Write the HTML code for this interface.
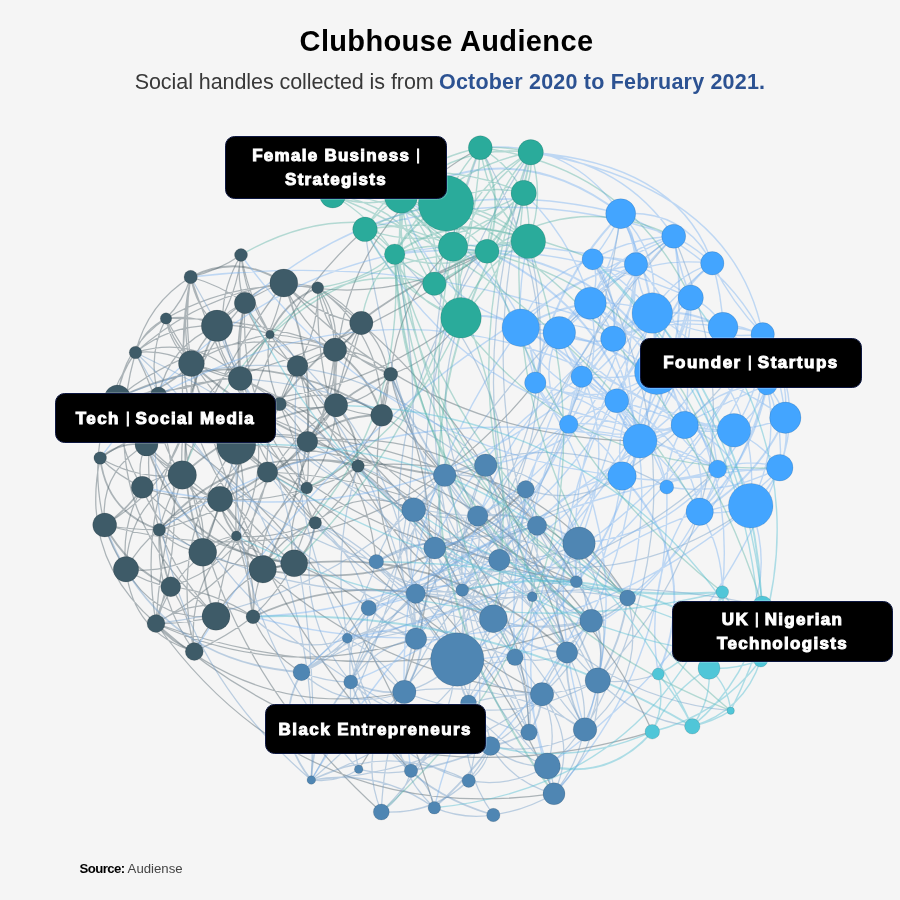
<!DOCTYPE html>
<html lang="en"><head><meta charset="utf-8"><title>Clubhouse Audience</title>
<style>
html,body{margin:0;padding:0}
body{width:900px;height:900px;background:#f5f5f5;position:relative;overflow:hidden;font-family:"Liberation Sans",sans-serif;color:#000}
h1{position:absolute;left:0;top:23.5px;width:893px;margin:0;text-align:center;font-size:29px;line-height:34px;font-weight:700;letter-spacing:0.36px;white-space:nowrap}
.sub{position:absolute;left:0;top:66.6px;width:900px;margin:0;text-align:center;font-size:21.5px;line-height:30px;color:#383838;white-space:nowrap;letter-spacing:-0.07px}
.sub b{color:#2c5292;font-weight:700;letter-spacing:0.2px;margin-left:-0.5px}
.lb{position:absolute;box-sizing:border-box;background:#000;border:1px solid #0c1640;border-radius:9.5px;color:#fff;font-weight:700;font-size:17px;line-height:23.7px;padding-top:1px;letter-spacing:0.7px;text-align:center;display:flex;align-items:center;justify-content:center;box-shadow:0 0 0 1px rgba(255,255,255,.2);-webkit-text-stroke:1px #fff;white-space:nowrap}
.lb i{font-style:normal;font-weight:400;font-size:14px;line-height:10px;display:inline-block;vertical-align:1px;-webkit-text-stroke:0.9px #fff;letter-spacing:0}
.lb span{display:block}
.src{position:absolute;left:79.5px;top:860.4px;font-size:13.2px;line-height:18px;color:#444;margin:0;white-space:nowrap}
.src b{color:#000;letter-spacing:-0.56px}
</style></head><body>
<svg width="900" height="900" viewBox="0 0 900 900" style="position:absolute;left:0;top:0">
<path fill="none" stroke="rgba(70,88,98,0.42)" stroke-width="1.25" d="M241.0 255.0Q217.9 270.8 190.7 277.0M241.0 255.0Q237.1 293.1 217.0 325.8M241.0 255.0Q245.3 298.5 270.0 334.5M241.0 255.0Q205.0 316.5 240.2 378.5M241.0 255.0Q258.7 349.0 336.0 405.2M190.7 277.0Q183.7 300.9 166.0 318.5M190.7 277.0Q183.9 320.3 191.4 363.5M190.7 277.0Q154.5 451.9 294.2 563.3M190.7 277.0Q283.4 555.5 542.0 694.3M283.8 283.0Q260.1 284.6 245.0 303.0M283.8 283.0Q245.1 296.1 217.0 325.8M283.8 283.0Q199.1 295.1 135.5 352.5M283.8 283.0Q301.0 283.5 317.7 287.7M283.8 283.0Q315.8 316.0 361.3 323.0M283.8 283.0Q300.8 323.0 335.0 349.8M283.8 283.0Q427.9 438.6 640.0 441.0M245.0 303.0Q235.9 279.6 241.0 255.0M245.0 303.0Q220.2 285.2 190.7 277.0M245.0 303.0Q226.9 309.3 217.0 325.8M245.0 303.0Q208.2 324.4 191.4 363.5M245.0 303.0Q176.1 375.3 182.2 475.0M166.0 318.5Q192.6 314.2 217.0 325.8M166.0 318.5Q143.7 329.2 135.5 352.5M166.0 318.5Q170.5 345.6 191.4 363.5M166.0 318.5Q183.0 373.3 240.2 378.5M166.0 318.5Q236.8 278.3 317.7 287.7M166.0 318.5Q274.9 518.9 499.3 560.0M217.0 325.8Q195.5 305.9 190.7 277.0M217.0 325.8Q171.2 323.6 135.5 352.5M217.0 325.8Q217.5 357.0 240.2 378.5M270.0 334.5Q253.8 321.7 245.0 303.0M270.0 334.5Q244.6 323.7 217.0 325.8M270.0 334.5Q227.9 341.5 191.4 363.5M270.0 334.5Q290.4 344.5 297.5 366.0M270.0 334.5Q126.8 445.0 156.0 623.5M270.0 334.5Q384.3 506.2 576.3 581.7M135.5 352.5Q147.7 303.5 190.7 277.0M135.5 352.5Q195.7 333.9 240.2 378.5M135.5 352.5Q120.0 372.7 117.5 398.0M135.5 352.5Q201.2 483.8 156.0 623.5M191.4 363.5Q200.4 342.1 217.0 325.8M191.4 363.5Q165.2 349.1 135.5 352.5M191.4 363.5Q197.1 470.6 104.7 525.0M240.2 378.5Q274.6 336.5 283.8 283.0M240.2 378.5Q251.0 353.7 270.0 334.5M240.2 378.5Q197.9 379.4 158.5 395.0M240.2 378.5Q284.0 399.2 307.3 441.7M240.2 378.5Q243.5 412.1 236.3 445.0M240.2 378.5Q362.1 430.1 376.3 561.7M297.5 366.0Q259.1 344.6 245.0 303.0M297.5 366.0Q318.6 329.7 317.7 287.7M297.5 366.0Q338.0 357.3 361.3 323.0M297.5 366.0Q285.2 383.4 279.7 404.0M117.5 398.0Q123.1 346.9 166.0 318.5M117.5 398.0Q137.8 394.4 158.5 395.0M117.5 398.0Q214.3 319.9 335.0 349.8M117.5 398.0Q133.8 450.0 182.2 475.0M117.5 398.0Q116.9 446.2 142.3 487.2M117.5 398.0Q322.2 374.9 487.0 251.3M117.5 398.0Q357.6 539.7 434.3 807.7M158.5 395.0Q146.8 355.2 166.0 318.5M158.5 395.0Q169.7 345.1 217.0 325.8M158.5 395.0Q146.9 418.4 146.5 444.5M158.5 395.0Q122.7 522.4 216.0 616.3M158.5 395.0Q326.7 422.5 461.0 317.7M158.5 395.0Q332.8 406.2 434.7 548.0M317.7 287.7Q343.1 300.9 361.3 323.0M317.7 287.7Q339.2 315.2 335.0 349.8M317.7 287.7Q328.6 352.6 390.7 374.3M317.7 287.7Q382.8 334.9 381.7 415.3M361.3 323.0Q342.0 362.1 336.0 405.2M361.3 323.0Q401.2 362.6 381.7 415.3M361.3 323.0Q322.9 487.5 159.3 529.7M335.0 349.8Q303.9 336.0 270.0 334.5M335.0 349.8Q314.6 354.0 297.5 366.0M335.0 349.8Q368.0 350.4 390.7 374.3M335.0 349.8Q332.4 377.6 336.0 405.2M335.0 349.8Q314.1 531.5 156.0 623.5M390.7 374.3Q285.8 316.5 166.0 318.5M390.7 374.3Q369.8 401.2 336.0 405.2M390.7 374.3Q381.3 393.7 381.7 415.3M390.7 374.3Q343.8 535.6 457.3 659.5M336.0 405.2Q323.8 425.1 307.3 441.7M336.0 405.2Q334.3 451.2 306.7 488.0M336.0 405.2Q225.6 483.9 253.0 616.7M381.7 415.3Q357.8 415.0 336.0 405.2M381.7 415.3Q359.3 467.2 306.7 488.0M381.7 415.3Q333.8 381.9 279.7 404.0M381.7 415.3Q419.9 438.3 444.7 475.3M307.3 441.7Q311.1 402.7 297.5 366.0M307.3 441.7Q357.9 367.8 317.7 287.7M307.3 441.7Q309.8 464.9 306.7 488.0M307.3 441.7Q271.2 429.8 236.3 445.0M307.3 441.7Q488.7 421.5 576.3 581.7M358.0 466.0Q335.1 483.3 306.7 488.0M358.0 466.0Q346.1 501.5 315.3 522.7M358.0 466.0Q308.1 502.8 294.2 563.3M358.0 466.0Q523.5 547.8 529.0 732.3M358.0 466.0Q533.6 448.8 627.6 598.0M306.7 488.0Q238.3 408.0 245.0 303.0M306.7 488.0Q304.6 506.9 315.3 522.7M306.7 488.0Q284.8 523.0 294.2 563.3M315.3 522.7Q220.3 432.0 245.0 303.0M315.3 522.7Q296.1 492.9 267.5 472.0M315.3 522.7Q277.5 539.5 236.3 536.0M315.3 522.7Q280.6 536.5 262.7 569.3M315.3 522.7Q360.4 484.9 413.7 509.7M279.7 404.0Q263.1 370.9 270.0 334.5M279.7 404.0Q307.7 411.3 336.0 405.2M279.7 404.0Q298.0 444.4 306.7 488.0M279.7 404.0Q181.7 403.7 100.2 458.0M146.5 444.5Q162.7 461.7 182.2 475.0M146.5 444.5Q136.0 465.0 142.3 487.2M146.5 444.5Q173.2 485.3 220.0 499.0M146.5 444.5Q99.1 471.0 104.7 525.0M236.3 445.0Q191.4 439.5 146.5 444.5M236.3 445.0Q255.4 454.5 267.5 472.0M236.3 445.0Q231.4 473.0 220.0 499.0M236.3 445.0Q250.4 490.5 236.3 536.0M236.3 445.0Q457.4 444.7 591.2 620.8M100.2 458.0Q118.5 476.5 142.3 487.2M100.2 458.0Q79.3 557.2 156.0 623.5M267.5 472.0Q165.3 399.6 190.7 277.0M267.5 472.0Q264.6 436.4 279.7 404.0M267.5 472.0Q467.5 582.3 554.0 793.7M267.5 472.0Q539.6 483.8 652.3 731.7M182.2 475.0Q155.2 439.5 158.5 395.0M182.2 475.0Q138.3 480.5 100.2 458.0M182.2 475.0Q159.8 473.2 142.3 487.2M182.2 475.0Q166.6 500.6 159.3 529.7M142.3 487.2Q179.9 501.4 220.0 499.0M142.3 487.2Q158.4 532.8 202.7 552.3M142.3 487.2Q120.7 525.6 126.0 569.3M142.3 487.2Q203.8 554.1 294.2 563.3M220.0 499.0Q264.6 503.2 306.7 488.0M220.0 499.0Q196.1 494.8 182.2 475.0M220.0 499.0Q183.4 502.1 159.3 529.7M104.7 525.0Q81.4 431.8 135.5 352.5M104.7 525.0Q131.8 530.1 159.3 529.7M104.7 525.0Q111.7 548.9 126.0 569.3M159.3 529.7Q255.9 471.0 297.5 366.0M236.3 536.0Q279.0 458.3 240.2 378.5M236.3 536.0Q260.5 559.8 294.2 563.3M236.3 536.0Q249.4 575.4 253.0 616.7M202.7 552.3Q207.4 509.7 182.2 475.0M202.7 552.3Q214.2 526.6 220.0 499.0M202.7 552.3Q176.5 549.6 159.3 529.7M202.7 552.3Q216.4 537.7 236.3 536.0M126.0 569.3Q127.7 506.4 182.2 475.0M126.0 569.3Q138.5 546.0 159.3 529.7M126.0 569.3Q167.4 574.4 202.7 552.3M126.0 569.3Q133.0 633.0 194.3 651.5M262.7 569.3Q257.6 514.0 306.7 488.0M262.7 569.3Q247.3 554.4 236.3 536.0M262.7 569.3Q278.8 568.0 294.2 563.3M262.7 569.3Q253.9 592.2 253.0 616.7M294.2 563.3Q247.1 542.7 220.0 499.0M294.2 563.3Q246.4 575.1 202.7 552.3M294.2 563.3Q277.5 593.0 253.0 616.7M294.2 563.3Q334.8 580.1 368.7 608.0M170.7 586.7Q253.9 558.7 267.5 472.0M170.7 586.7Q146.2 583.4 126.0 569.3M170.7 586.7Q215.4 592.0 253.0 616.7M170.7 586.7Q159.4 603.5 156.0 623.5M170.7 586.7Q190.5 616.2 194.3 651.5M216.0 616.3Q90.9 510.3 135.5 352.5M216.0 616.3Q221.4 575.0 236.3 536.0M216.0 616.3Q155.7 622.2 126.0 569.3M216.0 616.3Q241.2 569.2 294.2 563.3M216.0 616.3Q186.4 623.6 156.0 623.5M216.0 616.3Q203.3 632.7 194.3 651.5M253.0 616.7Q259.1 525.1 182.2 475.0M253.0 616.7Q202.5 591.0 156.0 623.5M253.0 616.7Q225.6 637.4 194.3 651.5M156.0 623.5Q167.0 433.4 283.8 283.0M156.0 623.5Q175.3 560.6 236.3 536.0M156.0 623.5Q374.1 701.0 591.2 620.8M156.0 623.5Q262.5 721.8 404.3 692.0M156.0 623.5Q373.9 816.2 652.3 731.7M194.3 651.5Q168.1 538.7 236.3 445.0M194.3 651.5Q155.3 596.8 159.3 529.7M194.3 651.5Q186.1 583.1 236.3 536.0M480.3 147.7Q328.1 231.6 336.0 405.2M365.0 229.3Q227.8 352.1 236.3 536.0M453.0 246.7Q398.1 298.9 390.7 374.3M487.0 251.3Q391.5 306.5 283.8 283.0M461.0 317.7Q436.3 359.0 390.7 374.3M535.3 382.7Q366.3 593.9 104.7 525.0M444.7 475.3Q401.4 433.5 390.7 374.3M576.3 581.7Q375.2 553.6 297.5 366.0M462.3 590.0Q378.2 415.3 191.4 363.5M493.3 618.7Q313.0 502.3 317.7 287.7M416.0 638.8Q283.0 682.0 156.0 623.5M567.0 652.5Q503.6 428.3 317.7 287.7M301.5 672.2Q267.9 652.6 253.0 616.7M542.0 694.3Q312.9 665.4 182.2 475.0M554.0 793.7Q303.4 829.3 156.0 623.5M358.7 769.3Q482.7 580.5 390.7 374.3M411.0 770.7Q246.9 596.4 191.4 363.5M381.3 812.0Q141.6 595.9 190.7 277.0M627.6 598.0Q427.9 393.2 146.5 444.5"/>
<path fill="none" stroke="rgba(70,88,98,0.42)" stroke-width="1.8" d="M190.7 277.0Q239.0 252.8 283.8 283.0M245.0 303.0Q234.8 340.3 240.2 378.5M217.0 325.8Q161.7 436.0 202.7 552.3M191.4 363.5Q161.6 396.1 117.5 398.0M191.4 363.5Q300.2 459.8 444.7 475.3M317.7 287.7Q284.5 301.5 270.0 334.5M361.3 323.0Q351.6 339.8 335.0 349.8M390.7 374.3Q337.2 393.4 307.3 441.7M336.0 405.2Q358.9 431.3 358.0 466.0M381.7 415.3Q254.5 332.5 117.5 398.0M381.7 415.3Q368.9 375.0 335.0 349.8M381.7 415.3Q339.3 413.9 307.3 441.7M358.0 466.0Q239.6 438.3 159.3 529.7M146.5 444.5Q180.9 553.0 294.2 563.3M236.3 445.0Q267.9 472.4 306.7 488.0M100.2 458.0Q120.4 441.1 146.5 444.5M100.2 458.0Q106.8 512.8 159.3 529.7M267.5 472.0Q292.0 462.8 307.3 441.7M267.5 472.0Q311.6 451.1 358.0 466.0M267.5 472.0Q245.8 489.0 220.0 499.0M182.2 475.0Q247.9 415.5 336.0 405.2M142.3 487.2Q127.4 510.0 104.7 525.0M220.0 499.0Q248.4 529.9 262.7 569.3M104.7 525.0Q126.9 567.5 170.7 586.7M159.3 529.7Q160.2 559.2 170.7 586.7M236.3 536.0Q222.6 519.9 220.0 499.0M202.7 552.3Q202.1 585.8 216.0 616.3M202.7 552.3Q272.9 333.8 487.0 251.3M262.7 569.3Q342.4 431.2 283.8 283.0M262.7 569.3Q435.7 534.5 567.0 652.5M294.2 563.3Q312.8 547.2 315.3 522.7M156.0 623.5Q171.2 642.9 194.3 651.5M525.7 489.3Q415.4 599.1 262.7 569.3M493.3 618.7Q373.6 561.4 253.0 616.7"/>
<path fill="none" stroke="rgba(105,150,195,0.42)" stroke-width="1.25" d="M190.7 277.0Q327.1 510.2 311.3 780.0M217.0 325.8Q283.3 508.7 477.7 516.0M270.0 334.5Q412.5 453.3 416.0 638.8M135.5 352.5Q261.5 584.2 515.0 657.3M135.5 352.5Q383.4 470.3 542.0 694.3M297.5 366.0Q283.7 509.2 347.3 638.3M158.5 395.0Q234.1 521.8 376.3 561.7M158.5 395.0Q133.5 627.7 311.3 780.0M390.7 374.3Q420.7 481.4 499.3 560.0M358.0 466.0Q394.1 477.3 413.7 509.7M315.3 522.7Q292.6 611.3 350.7 682.0M279.7 404.0Q457.8 527.6 529.0 732.3M236.3 445.0Q228.6 633.2 358.7 769.3M267.5 472.0Q364.9 608.7 532.3 596.7M159.3 529.7Q365.6 644.7 579.0 543.3M253.0 616.7Q293.0 658.6 347.3 638.3M156.0 623.5Q302.8 607.2 413.7 509.7M394.7 254.3Q553.1 407.0 493.3 618.7M394.7 254.3Q457.0 533.6 311.3 780.0M528.3 241.3Q579.6 451.9 415.7 593.7M592.7 259.3Q718.6 496.5 585.0 729.5M620.7 213.7Q573.0 555.3 311.3 780.0M673.7 236.3Q508.0 418.5 457.3 659.5M673.7 236.3Q436.9 404.6 350.7 682.0M717.7 469.0Q609.2 570.0 462.3 590.0M666.7 487.0Q558.7 424.3 444.7 475.3M750.7 505.7Q637.3 590.0 499.3 560.0M485.7 465.3Q324.2 308.2 117.5 398.0M485.7 465.3Q442.5 475.9 413.7 509.7M485.7 465.3Q558.7 472.8 579.0 543.3M485.7 465.3Q456.2 524.3 462.3 590.0M485.7 465.3Q505.6 591.8 597.8 680.5M444.7 475.3Q464.4 467.1 485.7 465.3M444.7 475.3Q432.3 495.3 413.7 509.7M444.7 475.3Q454.8 500.9 477.7 516.0M444.7 475.3Q427.5 536.6 462.3 590.0M525.7 489.3Q577.2 506.6 622.0 476.0M525.7 489.3Q537.1 505.7 537.0 525.7M525.7 489.3Q491.1 535.5 434.7 548.0M525.7 489.3Q535.0 544.2 576.3 581.7M525.7 489.3Q401.1 551.9 350.7 682.0M413.7 509.7Q444.8 522.2 477.7 516.0M413.7 509.7Q412.9 565.0 462.3 590.0M413.7 509.7Q398.7 552.1 415.7 593.7M477.7 516.0Q423.4 420.7 461.0 317.7M477.7 516.0Q484.6 556.0 462.3 590.0M537.0 525.7Q507.1 470.8 444.7 475.3M537.0 525.7Q520.4 545.4 499.3 560.0M537.0 525.7Q560.3 551.1 576.3 581.7M537.0 525.7Q481.6 536.9 462.3 590.0M537.0 525.7Q538.6 561.5 532.3 596.7M579.0 543.3Q541.4 562.2 499.3 560.0M579.0 543.3Q578.9 583.0 591.2 620.8M579.0 543.3Q616.4 608.1 597.8 680.5M434.7 548.0Q642.2 507.9 762.7 334.3M434.7 548.0Q435.2 511.0 444.7 475.3M434.7 548.0Q428.8 526.3 413.7 509.7M434.7 548.0Q467.6 550.7 499.3 560.0M434.7 548.0Q481.3 569.0 493.3 618.7M434.7 548.0Q496.8 698.0 381.3 812.0M499.3 560.0Q520.8 527.8 525.7 489.3M499.3 560.0Q498.0 533.3 477.7 516.0M499.3 560.0Q484.4 579.4 462.3 590.0M499.3 560.0Q427.7 566.9 368.7 608.0M376.3 561.7Q349.4 536.5 315.3 522.7M376.3 561.7Q395.7 506.8 444.7 475.3M376.3 561.7Q411.5 599.6 462.3 590.0M376.3 561.7Q391.4 583.3 415.7 593.7M576.3 581.7Q459.9 394.6 240.2 378.5M576.3 581.7Q477.7 584.7 413.7 509.7M576.3 581.7Q574.8 562.3 579.0 543.3M576.3 581.7Q525.9 580.3 493.3 618.7M576.3 581.7Q600.5 594.5 627.6 598.0M462.3 590.0Q609.4 374.5 480.3 147.7M462.3 590.0Q439.7 600.7 415.7 593.7M462.3 590.0Q466.2 625.2 457.3 659.5M462.3 590.0Q501.2 613.8 515.0 657.3M462.3 590.0Q493.8 684.4 468.7 780.7M415.7 593.7Q397.5 526.5 444.7 475.3M415.7 593.7Q459.1 591.8 493.3 618.7M415.7 593.7Q388.9 627.3 347.3 638.3M415.7 593.7Q411.8 616.3 416.0 638.8M532.3 596.7Q463.0 554.4 444.7 475.3M532.3 596.7Q532.6 629.5 515.0 657.3M532.3 596.7Q559.3 618.6 567.0 652.5M368.7 608.0Q357.4 555.7 315.3 522.7M368.7 608.0Q467.1 551.9 576.3 581.7M368.7 608.0Q354.4 620.6 347.3 638.3M368.7 608.0Q348.2 653.8 301.5 672.2M368.7 608.0Q359.3 661.5 404.3 692.0M493.3 618.7Q425.9 503.3 307.3 441.7M493.3 618.7Q505.2 590.3 499.3 560.0M493.3 618.7Q472.3 610.3 462.3 590.0M493.3 618.7Q458.7 644.3 416.0 638.8M493.3 618.7Q469.4 657.5 468.5 703.0M591.2 620.8Q425.2 650.5 315.3 522.7M591.2 620.8Q516.0 588.4 477.7 516.0M591.2 620.8Q541.9 634.6 493.3 618.7M591.2 620.8Q577.3 664.7 542.0 694.3M347.3 638.3Q444.8 641.0 499.3 560.0M347.3 638.3Q381.8 623.5 416.0 638.8M347.3 638.3Q326.9 658.7 301.5 672.2M416.0 638.8Q392.6 486.8 297.5 366.0M416.0 638.8Q359.5 428.2 487.0 251.3M416.0 638.8Q481.4 566.0 444.7 475.3M416.0 638.8Q433.7 655.0 457.3 659.5M457.3 659.5Q445.3 621.1 415.7 593.7M457.3 659.5Q486.6 669.1 515.0 657.3M457.3 659.5Q435.5 683.4 404.3 692.0M457.3 659.5Q456.8 682.8 468.5 703.0M457.3 659.5Q492.8 693.7 542.0 694.3M515.0 657.3Q541.9 665.1 567.0 652.5M567.0 652.5Q519.1 577.2 434.7 548.0M567.0 652.5Q577.0 635.0 591.2 620.8M567.0 652.5Q549.5 670.4 542.0 694.3M301.5 672.2Q356.8 629.1 376.3 561.7M301.5 672.2Q346.8 713.6 404.3 692.0M301.5 672.2Q449.0 566.7 627.6 598.0M350.7 682.0Q345.6 641.6 368.7 608.0M350.7 682.0Q373.9 646.1 416.0 638.8M350.7 682.0Q325.1 682.0 301.5 672.2M404.3 692.0Q382.9 657.6 347.3 638.3M404.3 692.0Q501.7 677.0 585.0 729.5M468.5 703.0Q423.9 585.6 315.3 522.7M468.5 703.0Q402.6 731.7 350.7 682.0M468.5 703.0Q494.0 727.4 529.0 732.3M542.0 694.3Q504.7 693.8 468.5 703.0M542.0 694.3Q558.7 717.8 585.0 729.5M542.0 694.3Q440.2 773.5 311.3 780.0M597.8 680.5Q459.0 452.2 523.7 193.0M597.8 680.5Q781.3 483.3 673.7 236.3M597.8 680.5Q606.4 649.3 591.2 620.8M597.8 680.5Q503.8 733.2 404.3 692.0M597.8 680.5Q571.0 691.7 542.0 694.3M597.8 680.5Q590.3 733.7 547.3 766.0M597.8 680.5Q637.1 719.7 692.3 726.3M529.0 732.3Q367.0 451.5 480.3 147.7M529.0 732.3Q528.7 645.6 462.3 590.0M529.0 732.3Q534.5 692.5 515.0 657.3M585.0 729.5Q435.1 452.4 530.7 152.3M585.0 729.5Q401.1 511.9 365.0 229.3M585.0 729.5Q599.0 707.0 597.8 680.5M585.0 729.5Q541.1 756.8 490.5 746.0M585.0 729.5Q648.8 677.5 627.6 598.0M490.5 746.0Q253.2 669.7 146.5 444.5M490.5 746.0Q341.9 437.7 530.7 152.3M490.5 746.0Q488.8 719.7 468.5 703.0M490.5 746.0Q523.1 726.9 542.0 694.3M490.5 746.0Q514.8 767.6 547.3 766.0M547.3 766.0Q416.4 636.2 485.7 465.3M547.3 766.0Q497.9 747.0 468.5 703.0M547.3 766.0Q559.3 729.1 542.0 694.3M547.3 766.0Q510.7 788.0 468.7 780.7M554.0 793.7Q607.6 727.4 567.0 652.5M554.0 793.7Q578.4 740.3 542.0 694.3M554.0 793.7Q601.5 747.0 597.8 680.5M554.0 793.7Q512.5 782.8 490.5 746.0M554.0 793.7Q553.9 779.1 547.3 766.0M358.7 769.3Q349.0 726.2 350.7 682.0M358.7 769.3Q384.7 775.6 411.0 770.7M358.7 769.3Q337.0 783.4 311.3 780.0M411.0 770.7Q306.2 632.0 358.0 466.0M411.0 770.7Q510.4 666.9 537.0 525.7M411.0 770.7Q448.2 744.0 468.5 703.0M411.0 770.7Q404.0 797.0 381.3 812.0M468.7 780.7Q360.8 749.7 347.3 638.3M468.7 780.7Q486.6 767.7 490.5 746.0M468.7 780.7Q431.7 814.9 381.3 812.0M311.3 780.0Q324.5 524.7 135.5 352.5M311.3 780.0Q514.0 705.1 525.7 489.3M311.3 780.0Q390.2 741.6 468.7 780.7M311.3 780.0Q378.6 768.1 434.3 807.7M381.3 812.0Q387.6 661.3 499.3 560.0M381.3 812.0Q354.3 744.6 404.3 692.0M381.3 812.0Q458.0 815.6 490.5 746.0M434.3 807.7Q382.6 759.4 404.3 692.0M434.3 807.7Q430.5 784.3 411.0 770.7M493.3 815.0Q457.1 764.3 468.5 703.0M493.3 815.0Q525.7 810.3 554.0 793.7M493.3 815.0Q462.8 819.8 434.3 807.7M627.6 598.0Q606.5 567.8 579.0 543.3M627.6 598.0Q514.0 496.2 376.3 561.7M627.6 598.0Q566.0 629.5 542.0 694.3M762.5 606.0Q519.4 551.3 301.5 672.2M658.3 674.0Q628.8 684.4 597.8 680.5M730.7 710.7Q576.0 695.2 499.3 560.0"/>
<path fill="none" stroke="rgba(105,150,195,0.42)" stroke-width="1.8" d="M390.7 374.3Q454.3 527.3 591.2 620.8M485.7 465.3Q506.6 510.6 499.3 560.0M444.7 475.3Q552.6 554.5 597.8 680.5M477.7 516.0Q532.4 537.8 532.3 596.7M477.7 516.0Q414.0 592.7 404.3 692.0M579.0 543.3Q533.7 509.7 477.7 516.0M579.0 543.3Q541.9 594.5 567.0 652.5M376.3 561.7Q437.3 524.6 499.3 560.0M591.2 620.8Q613.3 615.6 627.6 598.0M416.0 638.8Q389.5 627.8 368.7 608.0M567.0 652.5Q523.2 650.8 493.3 618.7M301.5 672.2Q156.0 661.6 104.7 525.0M301.5 672.2Q270.2 729.4 311.3 780.0M350.7 682.0Q409.4 562.8 537.0 525.7M404.3 692.0Q433.0 645.5 415.7 593.7M404.3 692.0Q376.1 694.6 350.7 682.0M542.0 694.3Q541.2 715.3 529.0 732.3M597.8 680.5Q609.9 626.1 576.3 581.7M529.0 732.3Q510.8 742.1 490.5 746.0M585.0 729.5Q564.3 693.7 567.0 652.5M411.0 770.7Q452.5 764.0 490.5 746.0M311.3 780.0Q313.1 723.8 350.7 682.0M434.3 807.7Q465.9 780.0 490.5 746.0M493.3 815.0Q388.3 784.6 350.7 682.0M627.6 598.0Q621.3 642.4 597.8 680.5"/>
<path fill="none" stroke="rgba(115,175,240,0.42)" stroke-width="1.4" d="M190.7 277.0Q513.6 239.1 785.3 417.7M245.0 303.0Q409.4 159.8 620.7 213.7M158.5 395.0Q430.7 250.1 684.7 425.0M100.2 458.0Q302.8 180.6 636.0 264.3M253.0 616.7Q493.7 607.8 616.7 400.7M253.0 616.7Q530.8 690.8 750.7 505.7M401.0 196.7Q434.0 318.5 559.3 332.7M401.0 196.7Q507.5 261.3 535.3 382.7M528.3 241.3Q517.9 283.9 520.7 327.7M520.7 327.7Q536.0 353.1 535.3 382.7M520.7 327.7Q556.1 346.1 581.7 376.7M520.7 327.7Q567.1 275.5 636.0 264.3M520.7 327.7Q569.1 315.7 613.3 338.7M520.7 327.7Q547.3 392.3 616.7 400.7M559.3 332.7Q539.2 336.6 520.7 327.7M559.3 332.7Q565.2 357.4 581.7 376.7M559.3 332.7Q581.7 372.0 616.7 400.7M559.3 332.7Q534.5 381.5 568.7 424.3M590.3 303.2Q572.3 238.9 523.7 193.0M590.3 303.2Q577.8 321.1 559.3 332.7M590.3 303.2Q600.0 281.7 592.7 259.3M590.3 303.2Q609.5 279.5 636.0 264.3M590.3 303.2Q604.1 368.1 568.7 424.3M590.3 303.2Q740.9 408.9 722.3 592.0M592.7 259.3Q539.1 275.0 520.7 327.7M592.7 259.3Q609.8 238.4 620.7 213.7M535.3 382.7Q529.8 293.1 453.0 246.7M535.3 382.7Q545.3 330.9 590.3 303.2M535.3 382.7Q599.1 411.1 657.0 372.0M535.3 382.7Q546.1 408.3 568.7 424.3M535.3 382.7Q644.8 544.0 585.0 729.5M581.7 376.7Q602.1 361.5 613.3 338.7M581.7 376.7Q619.7 379.9 657.0 372.0M581.7 376.7Q644.0 416.6 666.7 487.0M581.7 376.7Q569.2 398.9 568.7 424.3M581.7 376.7Q456.8 453.2 415.7 593.7M620.7 213.7Q613.8 285.5 559.3 332.7M620.7 213.7Q637.4 236.3 636.0 264.3M620.7 213.7Q661.9 255.3 652.3 313.0M620.7 213.7Q655.1 278.5 613.3 338.7M673.7 236.3Q370.2 370.2 194.3 651.5M673.7 236.3Q520.5 181.8 365.0 229.3M673.7 236.3Q615.4 249.0 590.3 303.2M673.7 236.3Q630.4 237.8 592.7 259.3M673.7 236.3Q679.0 267.9 690.7 297.7M673.7 236.3Q616.7 271.7 613.3 338.7M636.0 264.3Q586.3 285.8 559.3 332.7M636.0 264.3Q615.2 254.2 592.7 259.3M636.0 264.3Q638.8 305.8 613.3 338.7M636.0 264.3Q699.8 332.7 684.7 425.0M636.0 264.3Q631.3 513.8 468.5 703.0M712.3 263.3Q614.8 251.8 559.3 332.7M712.3 263.3Q682.8 208.4 620.7 213.7M712.3 263.3Q695.1 246.8 673.7 236.3M712.3 263.3Q721.7 294.6 723.0 327.3M690.7 297.7Q548.7 235.0 394.7 254.3M690.7 297.7Q665.0 278.2 636.0 264.3M690.7 297.7Q712.3 306.6 723.0 327.3M690.7 297.7Q685.9 340.3 657.0 372.0M690.7 297.7Q694.2 379.5 640.0 441.0M652.3 313.0Q450.2 554.9 142.3 487.2M652.3 313.0Q622.5 300.3 590.3 303.2M652.3 313.0Q627.0 281.2 592.7 259.3M652.3 313.0Q637.9 290.7 636.0 264.3M652.3 313.0Q672.5 276.3 712.3 263.3M652.3 313.0Q580.2 345.9 568.7 424.3M652.3 313.0Q488.1 404.0 462.3 590.0M723.0 327.3Q743.4 327.5 762.7 334.3M723.0 327.3Q666.5 316.8 613.3 338.7M723.0 327.3Q696.6 359.5 657.0 372.0M762.7 334.3Q731.8 302.9 712.3 263.3M762.7 334.3Q704.2 340.6 652.3 313.0M762.7 334.3Q762.7 386.6 734.0 430.3M762.7 334.3Q771.6 412.1 717.7 469.0M762.7 334.3Q631.1 590.3 347.3 638.3M762.7 334.3Q657.8 541.7 457.3 659.5M613.3 338.7Q585.1 346.3 559.3 332.7M613.3 338.7Q608.1 316.8 590.3 303.2M613.3 338.7Q628.4 319.1 652.3 313.0M613.3 338.7Q687.1 304.8 762.7 334.3M613.3 338.7Q474.2 536.0 547.3 766.0M657.0 372.0Q633.4 328.1 590.3 303.2M657.0 372.0Q657.8 342.3 652.3 313.0M657.0 372.0Q631.8 359.8 613.3 338.7M657.0 372.0Q634.6 403.1 640.0 441.0M657.0 372.0Q663.3 435.6 717.7 469.0M616.7 400.7Q574.6 398.1 535.3 382.7M616.7 400.7Q594.9 395.0 581.7 376.7M616.7 400.7Q638.9 389.2 657.0 372.0M616.7 400.7Q686.7 434.9 699.7 511.7M767.0 385.0Q715.9 345.7 657.0 372.0M767.0 385.0Q758.0 413.1 734.0 430.3M767.0 385.0Q783.8 424.8 779.7 467.7M785.3 417.7Q789.5 371.8 762.7 334.3M785.3 417.7Q779.4 399.5 767.0 385.0M785.3 417.7Q736.2 437.5 684.7 425.0M785.3 417.7Q792.2 471.2 750.7 505.7M684.7 425.0Q652.0 409.3 616.7 400.7M684.7 425.0Q716.4 385.6 767.0 385.0M684.7 425.0Q663.2 435.5 640.0 441.0M684.7 425.0Q706.6 465.9 699.7 511.7M684.7 425.0Q626.6 443.6 568.7 424.3M734.0 430.3Q486.5 445.4 365.0 229.3M734.0 430.3Q629.5 412.1 559.3 332.7M734.0 430.3Q709.7 424.8 684.7 425.0M734.0 430.3Q684.6 414.2 640.0 441.0M734.0 430.3Q725.8 474.8 699.7 511.7M640.0 441.0Q381.9 389.2 159.3 529.7M640.0 441.0Q614.6 405.5 581.7 376.7M640.0 441.0Q702.8 399.7 723.0 327.3M640.0 441.0Q681.5 447.7 717.7 469.0M640.0 441.0Q480.3 588.9 554.0 793.7M779.7 467.7Q806.3 396.5 762.7 334.3M779.7 467.7Q678.3 482.6 616.7 400.7M779.7 467.7Q743.9 420.4 684.7 425.0M779.7 467.7Q748.5 457.5 717.7 469.0M779.7 467.7Q748.7 506.0 699.7 511.7M717.7 469.0Q707.3 381.7 652.3 313.0M717.7 469.0Q734.3 453.2 734.0 430.3M717.7 469.0Q712.6 492.0 699.7 511.7M622.0 476.0Q382.1 450.7 241.0 255.0M622.0 476.0Q682.0 396.7 690.7 297.7M622.0 476.0Q610.1 414.1 657.0 372.0M622.0 476.0Q627.2 456.6 640.0 441.0M622.0 476.0Q670.9 486.5 717.7 469.0M622.0 476.0Q606.6 438.5 568.7 424.3M622.0 476.0Q568.6 482.2 537.0 525.7M666.7 487.0Q739.8 426.4 762.7 334.3M666.7 487.0Q656.9 435.1 616.7 400.7M666.7 487.0Q666.2 453.3 684.7 425.0M666.7 487.0Q726.5 496.7 779.7 467.7M666.7 487.0Q672.2 663.1 554.0 793.7M750.7 505.7Q762.0 378.5 652.3 313.0M750.7 505.7Q779.9 448.2 767.0 385.0M750.7 505.7Q739.2 447.8 684.7 425.0M750.7 505.7Q769.3 489.8 779.7 467.7M750.7 505.7Q736.3 485.4 717.7 469.0M750.7 505.7Q726.0 515.5 699.7 511.7M750.7 505.7Q784.7 601.1 709.0 668.3M699.7 511.7Q643.2 414.5 535.3 382.7M699.7 511.7Q623.0 658.5 457.3 659.5M699.7 511.7Q722.6 548.6 722.3 592.0M568.7 424.3Q607.3 420.1 640.0 441.0M568.7 424.3Q535.5 449.1 525.7 489.3M485.7 465.3Q618.9 443.7 652.3 313.0M477.7 516.0Q621.2 430.6 636.0 264.3M477.7 516.0Q527.1 434.2 616.7 400.7M579.0 543.3Q627.0 432.6 559.3 332.7M579.0 543.3Q664.7 536.7 717.7 469.0M434.7 548.0Q536.8 524.2 568.7 424.3M576.3 581.7Q560.9 386.9 712.3 263.3M576.3 581.7Q543.3 504.4 568.7 424.3M368.7 608.0Q626.0 552.8 690.7 297.7M368.7 608.0Q516.4 568.1 568.7 424.3M515.0 657.3Q499.4 411.0 673.7 236.3M301.5 672.2Q504.0 484.4 779.7 467.7M350.7 682.0Q614.7 573.0 690.7 297.7M542.0 694.3Q695.9 491.8 592.7 259.3M585.0 729.5Q510.6 482.5 690.7 297.7M490.5 746.0Q599.3 632.0 622.0 476.0M547.3 766.0Q708.1 651.6 779.7 467.7M411.0 770.7Q375.4 526.8 520.7 327.7M311.3 780.0Q474.3 507.7 767.0 385.0M434.3 807.7Q486.0 587.1 699.7 511.7M627.6 598.0Q668.8 443.0 590.3 303.2M627.6 598.0Q732.2 514.4 767.0 385.0M658.3 674.0Q639.7 557.5 717.7 469.0M530.7 152.3Q678.5 164.2 712.3 263.3M530.7 152.3Q623.8 161.7 673.7 236.3M530.7 152.3Q733.3 186.7 762.7 334.3M480.3 147.7Q569.5 139.3 620.7 213.7M620.7 213.7Q771.0 276.3 785.3 417.7"/>
<path fill="none" stroke="rgba(115,175,240,0.42)" stroke-width="1.95" d="M401.0 196.7Q516.4 132.9 620.7 213.7M487.0 251.3Q643.9 272.1 684.7 425.0M487.0 251.3Q609.4 309.1 640.0 441.0M520.7 327.7Q492.8 311.1 461.0 317.7M520.7 327.7Q598.2 365.5 640.0 441.0M559.3 332.7Q674.2 359.3 717.7 469.0M590.3 303.2Q553.0 308.4 520.7 327.7M592.7 259.3Q619.3 294.8 613.3 338.7M535.3 382.7Q551.5 284.8 620.7 213.7M620.7 213.7Q677.1 323.4 640.0 441.0M673.7 236.3Q694.3 344.8 640.0 441.0M712.3 263.3Q660.4 305.3 657.0 372.0M652.3 313.0Q689.9 309.2 723.0 327.3M723.0 327.3Q753.4 349.7 767.0 385.0M616.7 400.7Q619.8 425.8 640.0 441.0M767.0 385.0Q752.8 458.7 699.7 511.7M622.0 476.0Q703.3 563.4 658.3 674.0M699.7 511.7Q757.5 478.4 785.3 417.7M515.0 657.3Q608.2 566.9 640.0 441.0"/>
<path fill="none" stroke="rgba(70,170,155,0.38)" stroke-width="1.4" d="M241.0 255.0Q344.8 193.8 453.0 246.7M317.7 287.7Q361.3 282.7 394.7 254.3M480.3 147.7Q466.1 390.8 294.2 563.3M480.3 147.7Q505.9 146.1 530.7 152.3M480.3 147.7Q404.5 162.9 365.0 229.3M480.3 147.7Q487.7 203.0 528.3 241.3M480.3 147.7Q443.0 229.6 461.0 317.7M480.3 147.7Q626.3 165.5 690.7 297.7M530.7 152.3Q455.3 143.5 401.0 196.7M530.7 152.3Q545.4 197.2 528.3 241.3M530.7 152.3Q444.1 213.2 461.0 317.7M523.7 193.0Q508.8 163.9 480.3 147.7M523.7 193.0Q533.2 173.7 530.7 152.3M523.7 193.0Q482.8 182.7 446.0 203.3M523.7 193.0Q427.8 151.0 332.7 195.0M523.7 193.0Q530.8 216.7 528.3 241.3M446.0 203.3Q456.7 171.5 480.3 147.7M446.0 203.3Q424.8 191.3 401.0 196.7M446.0 203.3Q403.4 209.7 365.0 229.3M446.0 203.3Q458.5 223.6 453.0 246.7M401.0 196.7Q463.5 232.4 523.7 193.0M401.0 196.7Q451.6 212.0 487.0 251.3M401.0 196.7Q445.8 229.4 434.3 283.7M401.0 196.7Q535.2 388.4 493.3 618.7M332.7 195.0Q366.5 209.5 401.0 196.7M332.7 195.0Q371.1 216.9 394.7 254.3M332.7 195.0Q403.3 196.5 453.0 246.7M332.7 195.0Q568.7 292.5 699.7 511.7M365.0 229.3Q455.3 259.1 523.7 193.0M365.0 229.3Q379.0 208.6 401.0 196.7M365.0 229.3Q383.3 237.7 394.7 254.3M365.0 229.3Q395.2 262.1 434.3 283.7M365.0 229.3Q395.0 293.1 461.0 317.7M365.0 229.3Q483.0 212.7 592.7 259.3M394.7 254.3Q366.5 283.1 361.3 323.0M394.7 254.3Q408.4 445.2 262.7 569.3M394.7 254.3Q437.6 169.8 530.7 152.3M394.7 254.3Q405.9 226.4 401.0 196.7M394.7 254.3Q422.9 243.5 453.0 246.7M394.7 254.3Q431.2 448.1 576.3 581.7M453.0 246.7Q472.7 183.7 530.7 152.3M453.0 246.7Q491.5 224.0 523.7 193.0M453.0 246.7Q471.0 241.8 487.0 251.3M453.0 246.7Q463.6 281.5 461.0 317.7M453.0 246.7Q654.1 275.9 717.7 469.0M487.0 251.3Q260.9 262.7 182.2 475.0M487.0 251.3Q491.4 194.1 530.7 152.3M487.0 251.3Q441.5 274.2 394.7 254.3M487.0 251.3Q506.9 243.0 528.3 241.3M487.0 251.3Q551.5 458.3 722.3 592.0M528.3 241.3Q493.6 208.3 446.0 203.3M528.3 241.3Q470.8 201.5 401.0 196.7M434.3 283.7Q337.0 260.0 270.0 334.5M434.3 283.7Q449.3 244.8 446.0 203.3M434.3 283.7Q412.7 205.9 332.7 195.0M434.3 283.7Q471.8 241.3 528.3 241.3M461.0 317.7Q414.8 430.9 306.7 488.0M461.0 317.7Q511.8 265.1 523.7 193.0M461.0 317.7Q408.4 268.4 401.0 196.7M461.0 317.7Q410.9 303.8 394.7 254.3M461.0 317.7Q478.5 265.2 528.3 241.3M673.7 236.3Q576.0 190.1 487.0 251.3M779.7 467.7Q553.3 476.5 434.3 283.7M576.3 581.7Q396.1 431.4 401.0 196.7M515.0 657.3Q405.5 463.9 453.0 246.7M567.0 652.5Q431.5 410.9 530.7 152.3M381.3 812.0Q643.8 575.3 528.3 241.3M627.6 598.0Q381.0 472.6 401.0 196.7M627.6 598.0Q454.8 464.3 394.7 254.3M762.5 606.0Q679.9 345.2 446.0 203.3M730.7 710.7Q486.9 508.0 523.7 193.0M730.7 710.7Q417.2 589.6 394.7 254.3"/>
<path fill="none" stroke="rgba(70,170,155,0.38)" stroke-width="1.95" d="M480.3 147.7Q506.7 198.0 487.0 251.3M530.7 152.3Q519.1 244.9 434.3 283.7M446.0 203.3Q412.8 221.2 394.7 254.3M401.0 196.7Q420.9 228.1 453.0 246.7M394.7 254.3Q457.7 209.1 528.3 241.3M591.2 620.8Q402.7 485.9 394.7 254.3M554.0 793.7Q339.5 503.4 523.7 193.0"/>
<path fill="none" stroke="rgba(85,190,210,0.45)" stroke-width="1.4" d="M267.5 472.0Q475.8 604.5 722.3 592.0M592.7 259.3Q743.1 400.6 762.5 606.0M376.3 561.7Q581.3 560.8 760.7 660.0M490.5 746.0Q573.9 766.6 652.3 731.7M722.3 592.0Q469.0 653.7 236.3 536.0M722.3 592.0Q552.7 608.3 413.7 509.7M722.3 592.0Q644.3 787.9 434.3 807.7M722.3 592.0Q746.7 623.1 760.7 660.0M722.3 592.0Q710.6 648.8 658.3 674.0M762.5 606.0Q739.3 640.2 709.0 668.3M762.5 606.0Q755.7 632.8 760.7 660.0M762.5 606.0Q749.2 678.9 692.3 726.3M709.0 668.3Q729.2 632.5 722.3 592.0M709.0 668.3Q711.5 700.4 692.3 726.3M709.0 668.3Q670.5 691.0 652.3 731.7M760.7 660.0Q404.6 623.5 245.0 303.0M760.7 660.0Q621.2 411.2 336.0 405.2M760.7 660.0Q758.2 425.5 592.7 259.3M760.7 660.0Q735.7 669.7 709.0 668.3M658.3 674.0Q665.9 704.0 652.3 731.7M730.7 710.7Q840.6 491.6 690.7 297.7M730.7 710.7Q727.9 685.4 709.0 668.3M730.7 710.7Q712.9 721.9 692.3 726.3M692.3 726.3Q558.5 433.0 236.3 445.0M692.3 726.3Q743.9 711.1 760.7 660.0M692.3 726.3Q678.4 698.1 658.3 674.0M652.3 731.7Q719.2 715.1 760.7 660.0"/>
<path fill="none" stroke="rgba(85,190,210,0.45)" stroke-width="1.95" d="M652.3 313.0Q773.4 465.6 760.7 660.0M760.7 660.0Q628.3 553.5 462.3 590.0M692.3 726.3Q488.6 607.7 253.0 616.7M652.3 731.7Q610.1 780.3 547.3 766.0"/>
<g fill="#3e5b68" stroke="rgba(0,0,0,0.16)" stroke-width="0.7">
<circle cx="241" cy="255" r="6.5"/>
<circle cx="190.7" cy="277" r="6.7"/>
<circle cx="283.8" cy="283" r="14"/>
<circle cx="245" cy="303" r="10.7"/>
<circle cx="166" cy="318.5" r="5.7"/>
<circle cx="217" cy="325.8" r="15.7"/>
<circle cx="270" cy="334.5" r="4.3"/>
<circle cx="135.5" cy="352.5" r="6.3"/>
<circle cx="191.4" cy="363.5" r="13"/>
<circle cx="240.2" cy="378.5" r="12"/>
<circle cx="297.5" cy="366" r="10.5"/>
<circle cx="117.5" cy="398" r="13"/>
<circle cx="158.5" cy="395" r="8"/>
<circle cx="317.7" cy="287.7" r="6"/>
<circle cx="361.3" cy="323" r="11.7"/>
<circle cx="335" cy="349.8" r="11.7"/>
<circle cx="390.7" cy="374.3" r="7"/>
<circle cx="336" cy="405.2" r="11.7"/>
<circle cx="381.7" cy="415.3" r="11"/>
<circle cx="307.3" cy="441.7" r="10.5"/>
<circle cx="358" cy="466" r="6.3"/>
<circle cx="306.7" cy="488" r="6"/>
<circle cx="315.3" cy="522.7" r="6.3"/>
<circle cx="279.7" cy="404" r="6.7"/>
<circle cx="146.5" cy="444.5" r="11.5"/>
<circle cx="236.3" cy="445" r="19.5"/>
<circle cx="100.2" cy="458" r="6.3"/>
<circle cx="267.5" cy="472" r="10.3"/>
<circle cx="182.2" cy="475" r="14.3"/>
<circle cx="142.3" cy="487.2" r="11"/>
<circle cx="220" cy="499" r="12.7"/>
<circle cx="104.7" cy="525" r="12"/>
<circle cx="159.3" cy="529.7" r="6.3"/>
<circle cx="236.3" cy="536" r="5"/>
<circle cx="202.7" cy="552.3" r="14"/>
<circle cx="126" cy="569.3" r="12.7"/>
<circle cx="262.7" cy="569.3" r="13.7"/>
<circle cx="294.2" cy="563.3" r="13.5"/>
<circle cx="170.7" cy="586.7" r="10"/>
<circle cx="216" cy="616.3" r="14"/>
<circle cx="253" cy="616.7" r="7"/>
<circle cx="156" cy="623.5" r="9"/>
<circle cx="194.3" cy="651.5" r="9"/>
</g>
<g fill="#2aab9b" stroke="rgba(0,0,0,0.16)" stroke-width="0.7">
<circle cx="480.3" cy="147.7" r="12"/>
<circle cx="530.7" cy="152.3" r="12.7"/>
<circle cx="523.7" cy="193" r="12.7"/>
<circle cx="446" cy="203.3" r="27.7"/>
<circle cx="401" cy="196.7" r="16.5"/>
<circle cx="332.7" cy="195" r="13"/>
<circle cx="365" cy="229.3" r="12.3"/>
<circle cx="394.7" cy="254.3" r="10.3"/>
<circle cx="453" cy="246.7" r="14.7"/>
<circle cx="487" cy="251.3" r="12"/>
<circle cx="528.3" cy="241.3" r="17.3"/>
<circle cx="434.3" cy="283.7" r="11.7"/>
<circle cx="461" cy="317.7" r="20.3"/>
</g>
<g fill="#43a5ff" stroke="rgba(0,0,0,0.16)" stroke-width="0.7">
<circle cx="520.7" cy="327.7" r="18.7"/>
<circle cx="559.3" cy="332.7" r="16.3"/>
<circle cx="590.3" cy="303.2" r="16"/>
<circle cx="592.7" cy="259.3" r="10.6"/>
<circle cx="535.3" cy="382.7" r="10.7"/>
<circle cx="581.7" cy="376.7" r="10.7"/>
<circle cx="620.7" cy="213.7" r="15"/>
<circle cx="673.7" cy="236.3" r="12"/>
<circle cx="636" cy="264.3" r="11.7"/>
<circle cx="712.3" cy="263.3" r="11.7"/>
<circle cx="690.7" cy="297.7" r="12.7"/>
<circle cx="652.3" cy="313" r="20.3"/>
<circle cx="723" cy="327.3" r="15"/>
<circle cx="762.7" cy="334.3" r="11.7"/>
<circle cx="613.3" cy="338.7" r="12.7"/>
<circle cx="657" cy="372" r="22.5"/>
<circle cx="616.7" cy="400.7" r="12"/>
<circle cx="767" cy="385" r="10"/>
<circle cx="785.3" cy="417.7" r="15.7"/>
<circle cx="684.7" cy="425" r="13.7"/>
<circle cx="734" cy="430.3" r="16.7"/>
<circle cx="640" cy="441" r="17"/>
<circle cx="779.7" cy="467.7" r="13.3"/>
<circle cx="717.7" cy="469" r="9"/>
<circle cx="622" cy="476" r="14.3"/>
<circle cx="666.7" cy="487" r="7"/>
<circle cx="750.7" cy="505.7" r="22.3"/>
<circle cx="699.7" cy="511.7" r="13.7"/>
<circle cx="568.7" cy="424.3" r="9.3"/>
</g>
<g fill="#4f86b3" stroke="rgba(0,0,0,0.16)" stroke-width="0.7">
<circle cx="485.7" cy="465.3" r="11.3"/>
<circle cx="444.7" cy="475.3" r="11.3"/>
<circle cx="525.7" cy="489.3" r="8.7"/>
<circle cx="413.7" cy="509.7" r="12"/>
<circle cx="477.7" cy="516" r="10.3"/>
<circle cx="537" cy="525.7" r="9.7"/>
<circle cx="579" cy="543.3" r="16.3"/>
<circle cx="434.7" cy="548" r="11"/>
<circle cx="499.3" cy="560" r="10.7"/>
<circle cx="376.3" cy="561.7" r="7.3"/>
<circle cx="576.3" cy="581.7" r="6"/>
<circle cx="462.3" cy="590" r="6.3"/>
<circle cx="415.7" cy="593.7" r="9.7"/>
<circle cx="532.3" cy="596.7" r="5"/>
<circle cx="368.7" cy="608" r="7.7"/>
<circle cx="493.3" cy="618.7" r="14"/>
<circle cx="591.2" cy="620.8" r="11.5"/>
<circle cx="347.3" cy="638.3" r="5"/>
<circle cx="416" cy="638.8" r="10.7"/>
<circle cx="457.3" cy="659.5" r="26.7"/>
<circle cx="515" cy="657.3" r="8.3"/>
<circle cx="567" cy="652.5" r="10.7"/>
<circle cx="301.5" cy="672.2" r="8.5"/>
<circle cx="350.7" cy="682" r="7"/>
<circle cx="404.3" cy="692" r="11.7"/>
<circle cx="468.5" cy="703" r="8"/>
<circle cx="542" cy="694.3" r="11.7"/>
<circle cx="597.8" cy="680.5" r="12.7"/>
<circle cx="529" cy="732.3" r="8.3"/>
<circle cx="585" cy="729.5" r="11.8"/>
<circle cx="490.5" cy="746" r="9.5"/>
<circle cx="547.3" cy="766" r="13"/>
<circle cx="554" cy="793.7" r="11"/>
<circle cx="358.7" cy="769.3" r="4.3"/>
<circle cx="411" cy="770.7" r="6.7"/>
<circle cx="468.7" cy="780.7" r="6.7"/>
<circle cx="311.3" cy="780" r="4.3"/>
<circle cx="381.3" cy="812" r="8"/>
<circle cx="434.3" cy="807.7" r="6.3"/>
<circle cx="493.3" cy="815" r="6.7"/>
<circle cx="627.6" cy="598" r="8"/>
</g>
<g fill="#50c6d8" stroke="rgba(0,0,0,0.16)" stroke-width="0.7">
<circle cx="722.3" cy="592" r="6.3"/>
<circle cx="762.5" cy="606" r="10"/>
<circle cx="709" cy="668.3" r="11"/>
<circle cx="760.7" cy="660" r="7"/>
<circle cx="658.3" cy="674" r="6"/>
<circle cx="730.7" cy="710.7" r="3.7"/>
<circle cx="692.3" cy="726.3" r="7.7"/>
<circle cx="652.3" cy="731.7" r="7.3"/>
</g>
</svg>
<h1>Clubhouse Audience</h1>
<p class="sub">Social handles collected is from <b>October 2020 to February 2021.</b></p>
<div class="lb" style="left:225px;top:136px;width:222.0px;height:63.0px;letter-spacing:1.28px"><span>Female Business <i>|</i><br>Strategists</span></div>
<div class="lb" style="left:640px;top:338px;width:222.0px;height:49.5px;letter-spacing:1.5px"><span>Founder <i>|</i> Startups</span></div>
<div class="lb" style="left:55px;top:393px;width:221.0px;height:50.0px;letter-spacing:1.38px"><span>Tech <i>|</i> Social Media</span></div>
<div class="lb" style="left:672px;top:601px;width:221.0px;height:61.0px;letter-spacing:1.3px"><span>UK <i>|</i> Nigerian<br>Technologists</span></div>
<div class="lb" style="left:265px;top:704px;width:220.5px;height:50.0px;letter-spacing:1.42px"><span>Black Entrepreneurs</span></div>
<p class="src"><b>Source:</b> Audiense</p>
</body></html>
